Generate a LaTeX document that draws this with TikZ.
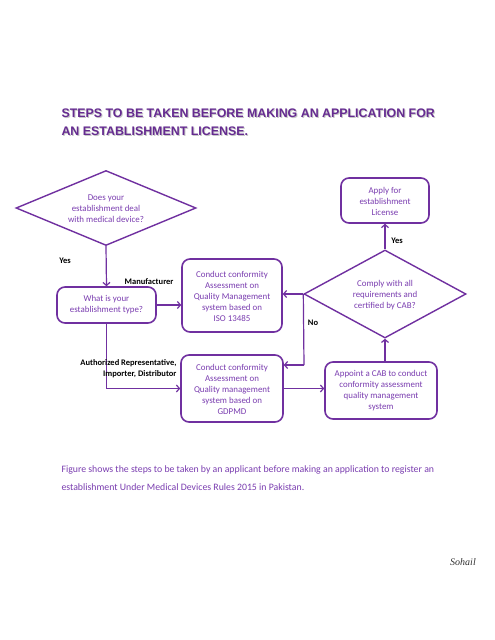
\documentclass[tikz,border=0pt]{standalone}
\usepackage{fontspec}
\setmainfont{Carlito}
\newfontfamily\titlefont{Liberation Sans}
\newfontfamily\sigfont{Liberation Serif}
\usetikzlibrary{shapes.geometric,arrows.meta}
\definecolor{pur}{HTML}{7030A0}
\definecolor{purtext}{HTML}{7A3DB0}
\definecolor{shadowgray}{HTML}{C8C8C8}
\tikzset{
  boxnode/.style={draw=pur, line width=1.6pt, rounded corners=8pt, inner sep=0pt},
  dianode/.style={draw=pur, line width=1.4pt, diamond, inner sep=0pt},
  intext/.style={text=purtext, align=center, font=\fontsize{8.9}{11}\selectfont},
  lbl/.style={text=black, font=\bfseries\fontsize{8.5}{11}\selectfont},
  conn/.style={draw=pur, line width=1.2pt, -{Straight Barb[length=3pt,width=7pt]}},
  plain/.style={draw=pur, line width=1.2pt},
  ttl/.style={anchor=base west, font=\titlefont\bfseries\fontsize{12.4}{18}\selectfont},
}
\begin{document}
\begin{tikzpicture}[x=1pt,y=-1pt]
\useasboundingbox (0,0) rectangle (495,640);
\fill[white] (0,0) rectangle (495,640);
% title
\node[ttl, text=shadowgray] (t1s) at (59,118) {STEPS TO BE TAKEN BEFORE MAKING AN APPLICATION FOR};
\node[ttl, text=shadowgray] (t2s) at (59,136) {AN ESTABLISHMENT LICENSE.};
\node[ttl, text=pur!90!black] (t1) at (58,117) {STEPS TO BE TAKEN BEFORE MAKING AN APPLICATION FOR};
\node[ttl, text=pur!90!black] (t2) at (58,135) {AN ESTABLISHMENT LICENSE.};
% diamond 1
\node[dianode, minimum width=180pt, minimum height=75pt] (d1) at (106,208) {};
\node[intext] (d1t) at (106,209) {Does your\\establishment deal\\with medical device?};
% box 2
\node[boxnode, minimum width=99pt, minimum height=36pt] (b2) at (106.5,305) {};
\node[intext] (b2t) at (106.5,305) {What is your\\establishment type?};
% box 3
\node[boxnode, minimum width=100pt, minimum height=73pt] (b3) at (232,295.5) {};
\node[intext] (b3t) at (232,296) {Conduct conformity\\Assessment on\\Quality Management\\system based on\\ISO 13485};
% box top
\node[boxnode, minimum width=88pt, minimum height=45pt] (b1) at (385,200.5) {};
\node[intext] (b1t) at (385,201) {Apply for\\establishment\\License};
% diamond 2
\node[dianode, minimum width=162pt, minimum height=88pt] (d2) at (385,294) {};
\node[intext] (d2t) at (385,295) {Comply with all\\requirements and\\certified by CAB?};
% box 4
\node[boxnode, minimum width=102pt, minimum height=67pt] (b4) at (232,388.5) {};
\node[intext] (b4t) at (232,389) {Conduct conformity\\Assessment on\\Quality management\\system based on\\GDPMD};
% box 5
\node[boxnode, minimum width=112pt, minimum height=57pt] (b5) at (381,390.5) {};
\node[intext] (b5t) at (381,391) {Appoint a CAB to conduct\\conformity assessment\\quality management\\system};
% connectors
\draw[conn] (d1.south) -- (b2.north);
\draw[conn] (b2.east) -- (b2.east -| b3.west);
\draw[conn] (d2.west) -- (d2.west -| b3.east);
\draw[conn] (d2.north) -- (b1.south);
\coordinate (nocorner) at (304,365);
\draw[plain] (d2.west) -- (nocorner);
\draw[conn] (nocorner) -- (nocorner -| b4.east);
\draw[conn] (b2.south) |- (b4.west);
\draw[conn] (b4.east) -- (b4.east -| b5.west);
\draw[conn] (d2.south |- b5.north) -- (d2.south);
% labels
\node[lbl] (lyes1) at (65,261) {Yes};
\node[lbl, anchor=east] (lman) at (177,282) {Manufacturer};
\node[lbl] (lyes2) at (397,241) {Yes};
\node[lbl] (lno) at (313,323) {No};
\node[lbl, align=right, anchor=east] (lauth) at (180,368.5) {Authorized Representative,\\Importer, Distributor};
% caption
\node[anchor=base west, text=purtext, font=\fontsize{9.8}{18}\selectfont] (cap1) at (58,472) {Figure shows the steps to be taken by an applicant before making an application to register an};
\node[anchor=base west, text=purtext, font=\fontsize{9.8}{18}\selectfont] (cap2) at (58,490) {establishment Under Medical Devices Rules 2015 in Pakistan.};
% signature
\node[font=\sigfont\itshape\fontsize{10}{12}\selectfont, text=black!80] (sig) at (463,562) {Sohail};
\end{tikzpicture}
\end{document}
